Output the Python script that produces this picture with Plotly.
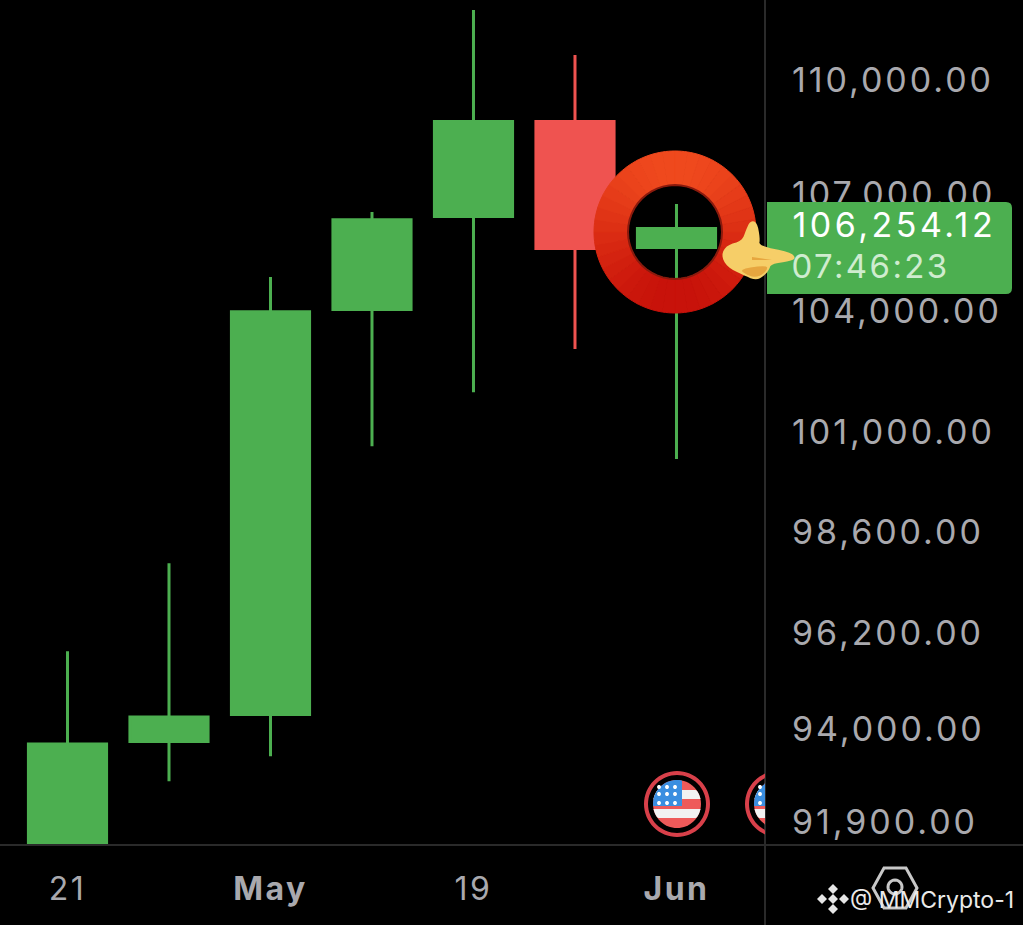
"""
Bougies hebdo BTC (capture mobile) en Plotly, axe log et étiquette de prix.
"""
import numpy as np
import plotly.graph_objects as go

W, H = 1023, 925
PLOT_RIGHT, PLOT_BOTTOM = 765, 845
GREEN = "#4CAF50"
RED = "#EF5350"
GREY = "#A9A9AE"

weeks = ["2025-04-21", "2025-04-28", "2025-05-05", "2025-05-12", "2025-05-19", "2025-05-26", "2025-06-02"]
opens = [91300, 93715, 94330, 104053, 106422, 108900, 105627]
highs = [95787, 97852, 104873, 106537, 111882, 110669, 106744]
lows = [91300, 92816, 93380, 100665, 101990, 103059, 100349]
closes = [93658, 94273, 103997, 106342, 108900, 105601, 106111]

x_labels = ["21", "", "<b>May</b>", "", "19", "", "<b>Jun</b>"]
y_ticks = [110000, 107000, 104000, 101000, 98600, 96200, 94000, 91900]
last_price = "106,254.12"
countdown = "07:46:23"
watermark = "@ MMCrypto-1"

# Plotly n'a pas d'espacement des lettres : on le passe en CSS
POST_SCRIPT = """
document.body.style.margin='0';
document.body.style.background='#000';
document.body.style.overflow='hidden';
var st=document.createElement('style');
st.textContent='.ytick text{letter-spacing:2.95px}'
 +'.xtick text{letter-spacing:2.5px}'
 +'.annotation[data-index="0"] text{letter-spacing:3.5px}'
 +'.annotation[data-index="1"] text{letter-spacing:2.4px}';
document.head.appendChild(st);
"""


def to_path(points):
    """Polygone en pixels écran -> chemin SVG en coordonnées paper."""
    head, *rest = points
    d = f"M{head[0] / W:.5f},{1 - head[1] / H:.5f}"
    for x, y in rest:
        d += f"L{x / W:.5f},{1 - y / H:.5f}"
    return d + "Z"


def smooth(points, passes=3):
    """Arrondit un polygone (coupe des coins)."""
    for _ in range(passes):
        out = []
        for (x0, y0), (x1, y1) in zip(points, points[1:] + points[:1]):
            out.append((0.75 * x0 + 0.25 * x1, 0.75 * y0 + 0.25 * y1))
            out.append((0.25 * x0 + 0.75 * x1, 0.25 * y0 + 0.75 * y1))
        points = out
    return points


def shape(d, fill, line=None, width=1):
    return dict(type="path", xref="paper", yref="paper", path=d, fillcolor=fill, layer="above",
                line=dict(color=line or fill, width=width if line else 0))


def disc(cx, cy, r, x_max=W, y_min=0, y_max=H, n=64, reverse=False):
    """Cercle en polygone, borné par un rectangle."""
    t = np.linspace(0, 2 * np.pi, n, endpoint=False)
    if reverse:
        t = t[::-1]
    xs = np.minimum(cx + r * np.cos(t), x_max)
    ys = np.clip(cy + r * np.sin(t), y_min, y_max)
    return list(zip(xs, ys))


def flag(cx, cy):
    clip = PLOT_RIGHT
    shapes = [shape(to_path(disc(cx, cy, 33, x_max=clip)) + to_path(disc(cx, cy, 29, x_max=clip, reverse=True)), "#D8404A")]
    shapes.append(shape(to_path(disc(cx, cy, 24, x_max=clip)), "#EE5A5A"))
    for top, bottom in [(-14, -5), (5, 14)]:
        shapes.append(shape(to_path(disc(cx, cy, 24, x_max=clip, y_min=cy + top, y_max=cy + bottom)), "#F2F2F2"))
    shapes.append(shape(to_path(disc(cx, cy, 24, x_max=min(clip, cx + 5), y_max=cy + 2)), "#3A8EE0"))
    for dx in (-18, -10, -2):
        for dy in (-17, -10, -1):
            if cx + dx < clip:
                shapes.append(shape(to_path(disc(cx + dx, cy + dy, 2, x_max=clip, n=10)), "#FFFFFF"))
    return shapes


def ring(cx, cy, r_out, r_in, n=40):
    """Anneau découpé en secteurs pour le dégradé orange -> rouge."""
    shapes = []
    for i in range(n):
        a0, a1 = 2 * np.pi * i / n, 2 * np.pi * (i + 1) / n
        mid = (np.sin((a0 + a1) / 2) + 1) / 2
        colour = f"rgb({int(240 - 40 * mid)},{int(74 - 56 * mid)},{int(30 - 20 * mid)})"
        arc = np.linspace(a0, a1, 5)
        pts = [(cx + r_out * np.cos(a), cy + r_out * np.sin(a)) for a in arc]
        pts += [(cx + r_in * np.cos(a), cy + r_in * np.sin(a)) for a in arc[::-1]]
        shapes.append(shape(to_path(pts), colour, line=colour, width=1))
    # ombre intérieure
    shapes.append(shape(to_path(disc(cx, cy, r_in, n=48)), "rgba(0,0,0,0)", line="#8A1A0D", width=2))
    return shapes


def hand():
    skin, shade = "#F6CE68", "#E7A63F"
    outline = [(750, 221), (757, 222), (760, 238), (759, 246), (790, 252), (796, 258), (790, 261), (771, 264),
               (769, 270), (763, 277), (755, 280), (743, 275), (727, 267), (721, 255), (727, 245), (742, 241), (746, 230)]
    lower = [(740, 269), (768, 265), (766, 272), (756, 278), (745, 274)]
    crease = [(752, 257), (772, 260), (752, 260)]
    return [shape(to_path(smooth(outline, 2)), skin), shape(to_path(smooth(lower, 2)), shade), shape(to_path(crease), shade)]


def diamond(cx, cy, r, colour="#E6E6E6"):
    return shape(to_path([(cx - r, cy), (cx, cy - r), (cx + r, cy), (cx, cy + r)]), colour)


def frame_lines():
    grid = "#2A2A2A"
    return [
        dict(type="line", xref="paper", yref="paper", x0=0, x1=1, y0=1 - PLOT_BOTTOM / H, y1=1 - PLOT_BOTTOM / H,
             line=dict(color=grid, width=2), layer="above"),
        dict(type="line", xref="paper", yref="paper", x0=PLOT_RIGHT / W, x1=PLOT_RIGHT / W, y0=0, y1=1,
             line=dict(color=grid, width=2), layer="above"),
    ]


def price_tag():
    x0, x1, y0, y1, r = 767, 1012, 202, 294, 6
    px, py = lambda v: v / W, lambda v: 1 - v / H
    d = (f"M{px(x0)},{py(y0)}L{px(x1 - r)},{py(y0)}Q{px(x1)},{py(y0)} {px(x1)},{py(y0 + r)}"
         f"L{px(x1)},{py(y1 - r)}Q{px(x1)},{py(y1)} {px(x1 - r)},{py(y1)}L{px(x0)},{py(y1)}Z")
    return shape(d, GREEN)


x_pos = list(range(len(weeks)))

fig = go.Figure(go.Candlestick(
    x=x_pos,
    open=opens,
    high=highs,
    low=lows,
    close=closes,
    text=weeks,
    whiskerwidth=0,
    increasing=dict(line=dict(color=GREEN, width=3), fillcolor=GREEN),
    decreasing=dict(line=dict(color=RED, width=3), fillcolor=RED),
))

shapes = frame_lines()
shapes += flag(677, 804) + flag(778, 804)
shapes.append(price_tag())
shapes += ring(675, 232, 81, 47)
shapes += hand()
shapes.append(shape(to_path([(873, 888), (884, 868), (906, 868), (917, 888), (906, 908), (884, 908)]), "rgba(0,0,0,0)", line="#C8C8C8", width=3))
shapes.append(shape(to_path(disc(895, 887, 7, n=24)), "rgba(0,0,0,0)", line="#C8C8C8", width=3))
for dx, dy in [(0, -10), (-11, 0), (11, 0), (0, 10), (0, 0)]:
    shapes.append(diamond(833 + dx, 899 + dy, 5))

annotations = [
    dict(text=last_price, x=809 / W, y=1 - 225 / H, font=dict(size=34, color="#FFFFFF")),
    dict(text=countdown, x=800 / W, y=1 - 266 / H, font=dict(size=33, color="#CFECCF")),
    dict(text=watermark, x=849 / W, y=1 - 900 / H, font=dict(size=23, color="#EAEAEA")),
]
for a in annotations:
    a.update(xref="paper", yref="paper", xanchor="left", yanchor="middle", showarrow=False, borderpad=0)

fig.update_layout(
    width=W,
    height=H,
    margin=dict(l=0, r=0, t=0, b=0),
    paper_bgcolor="#000000",
    plot_bgcolor="#000000",
    font=dict(family="Inter", color=GREY),
    showlegend=False,
    boxgap=0.23,
    boxgroupgap=0,
    shapes=shapes,
    annotations=annotations,
    xaxis=dict(
        domain=[0, PLOT_RIGHT / W],
        range=[-0.665, 6.872],
        rangeslider=dict(visible=False),
        tickvals=[i for i, t in zip(x_pos, x_labels) if t],
        ticktext=[t for t in x_labels if t],
        tickfont=dict(size=32, color=GREY),
        ticklabelstandoff=22,
        showgrid=False,
        zeroline=False,
        showline=False,
    ),
    yaxis=dict(
        domain=[1 - PLOT_BOTTOM / H, 1],
        type="log",
        side="right",
        range=[np.log10(91394), np.log10(112153)],
        tickvals=y_ticks,
        tickformat=",.2f",
        tickfont=dict(size=34, color=GREY),
        ticklabelstandoff=26,
        showgrid=False,
        zeroline=False,
        showline=False,
    ),
)

fig.write_html("out.html", config=dict(displayModeBar=False), post_script=POST_SCRIPT)
